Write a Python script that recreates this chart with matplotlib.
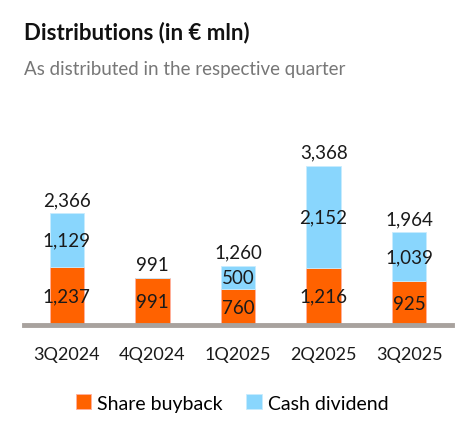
import matplotlib.pyplot as plt
import numpy as np

# data
quarters = ['3Q2024', '4Q2024', '1Q2025', '2Q2025', '3Q2025']
buyback = [1237, 991, 760, 1216, 925]
dividend = [1129, 0, 500, 2152, 1039]
totals = [2366, 991, 1260, 3368, 1964]

orange = '#FF6200'
blue = '#89D6FD'

plt.rcParams['font.family'] = ['Lato', 'DejaVu Sans']

fig = plt.figure(figsize=(4.59, 4.35), dpi=100)
ax = fig.add_axes([24 / 459, 109 / 435, 428 / 459, 170 / 435])

x = np.arange(len(quarters))
w = 0.4
ax.bar(x, buyback, w, color=orange, edgecolor='#FFB0A0', linewidth=0.6, label='Share buyback')
ax.bar(x, dividend, w, bottom=buyback, color=blue, edgecolor='#C8ECFE', linewidth=0.6, label='Cash dividend')

for i in range(len(quarters)):
    ax.text(x[i], buyback[i] / 2, f'{buyback[i]:,}', ha='center', va='center', fontsize=13.5, color='#1a1a1a')
    if dividend[i] > 0:
        ax.text(x[i], buyback[i] + dividend[i] / 2, f'{dividend[i]:,}', ha='center', va='center',
                fontsize=13.5, color='#1a1a1a')
    ax.text(x[i], totals[i] + 110, f'{totals[i]:,}', ha='center', va='bottom', fontsize=13.5, color='#1a1a1a')

ax.set_xlim(-0.5, 4.5)
ax.set_ylim(0, 3600)
ax.set_yticks([])
ax.set_xticks(x)
ax.set_xticklabels(quarters, fontsize=13, color='#1a1a1a')
ax.tick_params(axis='x', length=0, pad=15)
for s in ['top', 'right', 'left']:
    ax.spines[s].set_visible(False)
ax.spines['bottom'].set_color('#A8A29E')
ax.spines['bottom'].set_linewidth(3.5)

fig.text(24 / 459, 1 - 33 / 435, 'Distributions (in € mln)', fontsize=16, fontweight='bold',
         color='#111111', va='center')
fig.text(24 / 459, 1 - 70 / 435, 'As distributed in the respective quarter', fontsize=13.5,
         color='#777777', va='center')

fig.legend(loc='center', bbox_to_anchor=(232 / 459, 1 - 404 / 435), ncol=2, frameon=False,
           fontsize=14, handlelength=0.8, handleheight=0.8, handletextpad=0.3, columnspacing=1.2)

fig.savefig('out.png', dpi=100)
